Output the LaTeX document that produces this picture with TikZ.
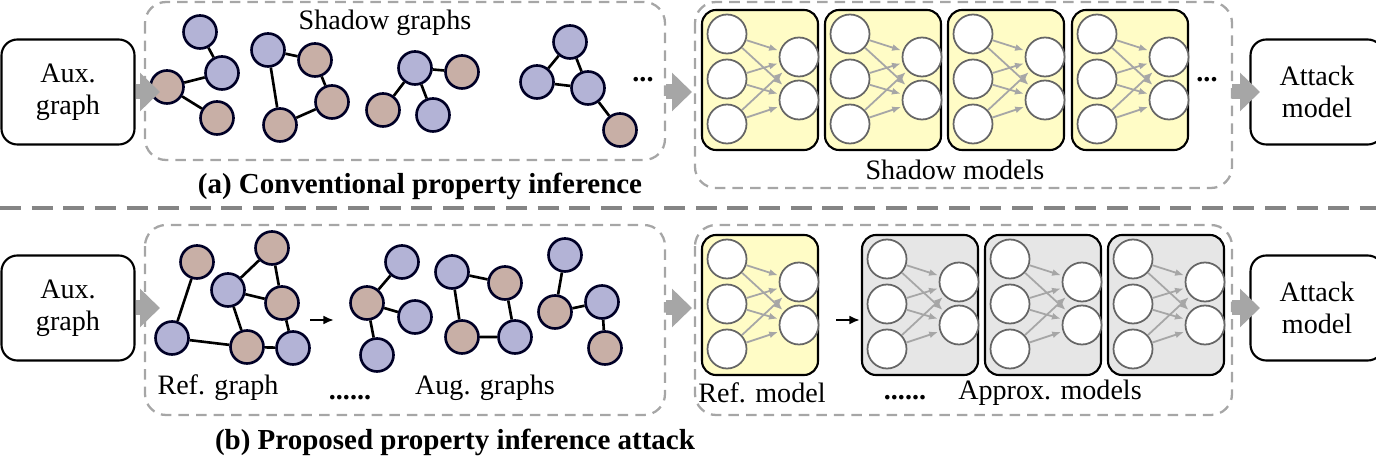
\documentclass[tikz,border=0pt]{standalone}
\usepackage{fontspec}
\setmainfont{Liberation Serif}
\usetikzlibrary{arrows.meta,positioning,calc}
\definecolor{gblue}{HTML}{B3B3D6}
\definecolor{gbrown}{HTML}{C8AFA6}
\definecolor{nyellow}{HTML}{FFFCC6}
\definecolor{ngray}{HTML}{E6E6E6}
\definecolor{dgray}{HTML}{A6A6A6}

% one network panel: name, left x, top y, fill
\newcommand{\netpanel}[4]{%
  \node[panel, fill=#4] (#1) at (#2+58,#3+70) {};
  \foreach \k in {0,1,2}
    \node[neuron] (#1-i\k) at (#2+25,#3+24+45*\k) {};
  \node[neuron] (#1-o0) at (#2+97,#3+47) {};
  \node[neuron] (#1-o1) at (#2+97,#3+90) {};
  \foreach \k in {0,1,2}
    \foreach \j in {0,1}
      \draw[synapse] (#1-i\k) -- (#1-o\j);
}

\begin{document}
\begin{tikzpicture}[
    x=0.02cm, y=-0.02cm,
    font=\fontsize{16}{18}\selectfont,
    box/.style={draw=black, line width=1.2pt, rounded corners=9pt,
      minimum width=133*0.02cm, minimum height=105*0.02cm, align=center},
    group/.style={draw=dgray, dashed, line width=1.3pt, dash pattern=on 6pt off 4pt,
      rounded corners=12pt},
    panel/.style={draw=black, line width=1.2pt, rounded corners=8pt,
      minimum width=116*0.02cm, minimum height=140*0.02cm},
    neuron/.style={circle, draw=black!60, line width=1pt, fill=white,
      minimum size=39*0.02cm, inner sep=0pt},
    synapse/.style={draw=dgray, line width=1pt, -{Latex[length=5pt,width=4pt]},
      shorten >=1pt},
    bn/.style={circle, draw=black!85!blue, line width=1.5pt, fill=gblue,
      minimum size=33*0.02cm, inner sep=0pt},
    rn/.style={bn, fill=gbrown},
    edge/.style={line width=1.5pt},
    bigarrow/.style={draw=dgray, line width=0.3cm,
      -{Triangle[length=0.4cm,width=0.75cm]}}
  ]
\useasboundingbox (0,0) rectangle (1376,462);

% ----- (a) conventional -----
\node[box] (aux1) at (68,92) {Aux.\\graph};
\node[box] (att1) at (1317,92) {Attack\\model};
\draw[group] (145,2) rectangle (665,160);
\draw[group] (695,2) rectangle (1232,188);
\node (shg) at (385,23) {Shadow graphs};

\node[bn] (a1) at (200,32) {};  \node[bn] (a2) at (222,73) {};
\node[rn] (a3) at (167,87) {};  \node[rn] (a4) at (217,118) {};
\draw[edge] (a1) -- (a2) -- (a3) -- (a4);
\node[bn] (b1) at (268,50) {};  \node[rn] (b2) at (315,60) {};
\node[rn] (b3) at (332,102) {}; \node[rn] (b4) at (280,125) {};
\draw[edge] (b1) -- (b2) -- (b3) -- (b4) -- (b1);
\node[bn] (c1) at (415,68) {};  \node[rn] (c2) at (462,72) {};
\node[rn] (c3) at (383,110) {}; \node[bn] (c4) at (433,115) {};
\draw[edge] (c1) -- (c2) (c1) -- (c3) (c1) -- (c4);
\node[bn] (d1) at (570,42) {};  \node[bn] (d2) at (537,82) {};
\node[bn] (d3) at (588,88) {};  \node[rn] (d4) at (620,130) {};
\draw[edge] (d1) -- (d2) -- (d3) -- (d1) (d3) -- (d4);
\node (gdots1) at (643,80) {\textbf{...}};

\netpanel{s1}{702}{10}{nyellow}
\netpanel{s2}{825}{10}{nyellow}
\netpanel{s3}{948}{10}{nyellow}
\netpanel{s4}{1072}{10}{nyellow}
\node (mdots1) at (1207,80) {\textbf{...}};
\node (shm) at (955,170) {Shadow models};

\coordinate (p1) at (160,92);
\coordinate (p2) at (692,92);
\coordinate (p3) at (1260,92);
\coordinate (q2) at (666,92);
\coordinate (q3) at (1232,92);
\draw[bigarrow] (aux1.east) -- (p1);
\draw[bigarrow] (q2) -- (p2);
\draw[bigarrow] (q3) -- (p3);
\node[font=\fontsize{16.5}{18}\selectfont\bfseries] (capa) at (420,186)
  {(a) Conventional property inference};

\draw[draw=dgray!80!black, line width=2pt, dash pattern=on 12pt off 6pt] (0,208) -- (1376,208);

% ----- (b) proposed -----
\node[box] (aux2) at (68,308) {Aux.\\graph};
\node[box] (att2) at (1317,308) {Attack\\model};
\draw[group] (145,225) rectangle (665,415);
\draw[group] (695,225) rectangle (1232,415);

\node[rn] (r1) at (197,262) {}; \node[rn] (r2) at (272,248) {};
\node[bn] (r3) at (228,290) {}; \node[rn] (r4) at (282,303) {};
\node[bn] (r5) at (172,338) {}; \node[rn] (r6) at (247,347) {};
\node[bn] (r7) at (293,348) {};
\draw[edge] (r1) -- (r5) -- (r6) -- (r7) -- (r4) -- (r2) -- (r3) -- (r4)
  (r3) -- (r6);
\node[bn] (e1) at (402,262) {}; \node[rn] (e2) at (367,303) {};
\node[bn] (e3) at (415,317) {}; \node[bn] (e4) at (377,355) {};
\draw[edge] (e1) -- (e2) -- (e3) (e2) -- (e4);
\node[bn] (f1) at (452,272) {}; \node[rn] (f2) at (505,283) {};
\node[rn] (f3) at (462,337) {}; \node[bn] (f4) at (515,337) {};
\draw[edge] (f1) -- (f2) -- (f4) -- (f3) -- (f1);
\node[bn] (h1) at (565,255) {}; \node[rn] (h2) at (555,312) {};
\node[bn] (h3) at (602,302) {}; \node[rn] (h4) at (605,348) {};
\draw[edge] (h1) -- (h2) -- (h3) -- (h4);
\coordinate (g0) at (310,320);
\coordinate (g1) at (334,320);
\draw[line width=1.3pt, -{Latex[length=6pt,width=5pt]}] (g0) -- (g1);
\node (refg) at (218,388) {Ref. graph};
\node (augg) at (485,388) {Aug. graphs};
\node (gdots2) at (350,398) {\textbf{......}};

\netpanel{rm}{702}{235}{nyellow}
\netpanel{a1m}{862}{235}{ngray}
\netpanel{a2m}{985}{235}{ngray}
\netpanel{a3m}{1108}{235}{ngray}
\coordinate (m0) at (836,320);
\coordinate (m1) at (860,320);
\draw[line width=1.3pt, -{Latex[length=6pt,width=5pt]}] (m0) -- (m1);
\node (refm) at (762,393) {Ref. model};
\node (mdots2) at (905,398) {\textbf{......}};
\node (apm) at (1050,393) {Approx. models};

\coordinate (p4) at (160,308);
\coordinate (p5) at (692,308);
\coordinate (p6) at (1260,308);
\coordinate (q5) at (666,308);
\coordinate (q6) at (1232,308);
\draw[bigarrow] (aux2.east) -- (p4);
\draw[bigarrow] (q5) -- (p5);
\draw[bigarrow] (q6) -- (p6);
\node[font=\fontsize{16.5}{18}\selectfont\bfseries] (capb) at (455,442)
  {(b) Proposed property inference attack};
\end{tikzpicture}
\end{document}
